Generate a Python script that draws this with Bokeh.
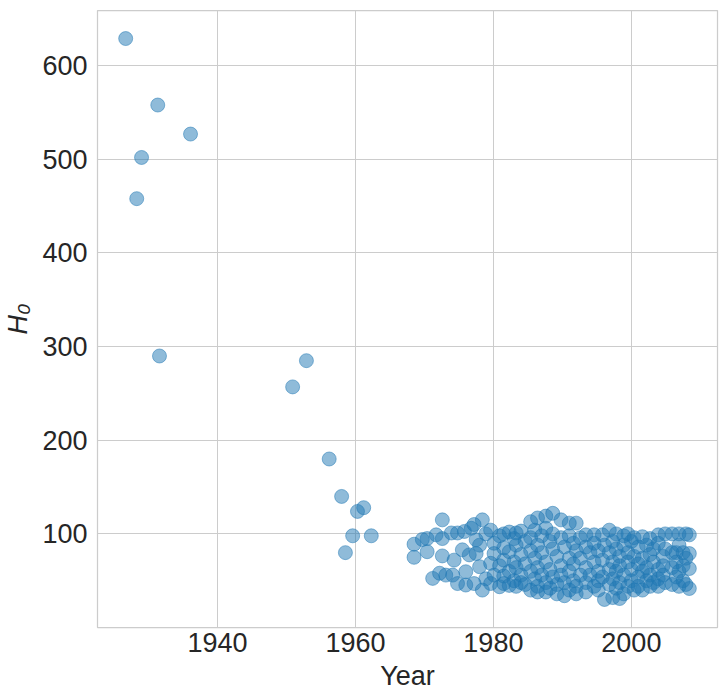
from bokeh.plotting import figure
from bokeh.models import Range1d, FixedTicker
from bokeh.embed import file_html
from bokeh.resources import INLINE

# Early measurements
early_year = [1926.7, 1928.3, 1929.0, 1931.35, 1931.6, 1936.1, 1950.9, 1952.9,
              1956.2, 1958.0, 1958.55, 1959.6, 1960.3, 1961.2, 1962.3]
early_h0 = [629, 458, 502, 558, 290, 527, 257, 285,
            180, 140, 80, 98, 124, 128, 98]

# Modern measurements (year, list of H0 values)
modern = [
    (1968.5, [89, 75]),
    (1969.7, [94]),
    (1970.4, [95, 81]),
    (1971.2, [52.5]),
    (1971.7, [99]),
    (1972.2, [58]),
    (1972.6, [95, 76.5, 115]),
    (1973.1, [56]),
    (1973.9, [101]),
    (1974.1, [56]),
    (1974.3, [72]),
    (1974.8, [101, 47]),
    (1975.5, [83]),
    (1975.8, [102.6]),
    (1976.0, [59.6, 45.4]),
    (1976.5, [77.6]),
    (1976.8, [106]),
    (1977.2, [110, 47]),
    (1977.5, [93.7, 79]),
    (1978.0, [88, 65]),
    (1978.4, [115, 40]),
    (1978.9, [100, 52]),
    (1979.6, [104, 68.6, 47]),
    (1980.1, [79, 56, 90]),
    (1980.9, [43.6, 98, 66]),
    (1981.5, [100, 85, 72, 55, 47]),
    (1982.3, [81, 102, 60, 45]),
    (1983.0, [95, 70, 50]),
    (1983.3, [101, 88, 64, 44]),
    (1984.0, [103, 78, 56, 48]),
    (1984.6, [92, 68, 46]),
    (1985.4, [113, 96, 82, 60, 40]),
    (1986.0, [104, 74, 52]),
    (1986.4, [117, 88, 64, 44, 38]),
    (1987.0, [98, 80, 56]),
    (1987.6, [119, 106, 70, 48, 38]),
    (1988.2, [92, 62, 42]),
    (1988.6, [122, 100, 84, 54]),
    (1989.2, [76, 46, 36]),
    (1989.8, [115, 96, 66, 56]),
    (1990.3, [86, 48, 34]),
    (1991.0, [111.5, 98, 74, 60, 40]),
    (1991.6, [90, 68, 50]),
    (1992.0, [111.5, 82, 44, 36]),
    (1992.6, [96, 74, 56]),
    (1993.4, [99, 86, 64, 48, 38]),
    (1994.0, [80, 56]),
    (1994.6, [99, 90, 70, 44]),
    (1995.2, [82, 60, 50, 40]),
    (1995.8, [99, 72, 54]),
    (1996.1, [30, 88]),
    (1996.8, [104, 80, 62, 46]),
    (1997.3, [32, 92, 70, 52]),
    (1997.8, [100, 84, 60, 42]),
    (1998.3, [31, 76, 66, 48]),
    (1998.9, [98, 88, 56, 36]),
    (1999.5, [100, 80, 70, 44]),
    (2000.0, [92, 62, 50]),
    (2000.4, [96, 76, 40]),
    (2001.0, [86, 68, 54, 44]),
    (2001.6, [97, 74, 60, 40]),
    (2002.2, [88, 64, 50]),
    (2002.7, [95, 78, 56, 44]),
    (2003.2, [84, 70, 48]),
    (2003.9, [99, 90, 62, 52, 44]),
    (2004.6, [76, 66, 56]),
    (2004.9, [100, 84, 48]),
    (2005.9, [100, 80, 64, 46]),
    (2006.5, [80, 70, 54]),
    (2006.9, [100, 88, 60, 44]),
    (2007.5, [80, 66, 50]),
    (2007.9, [100, 74, 46]),
    (2008.4, [99, 79, 63, 41.7]),
]

x_ticks = [1940, 1960, 1980, 2000]
y_ticks = [100, 200, 300, 400, 500, 600]

years = list(early_year)
h0 = list(early_h0)
for yr, vals in modern:
    for v in vals:
        years.append(yr)
        h0.append(v)

xmin, xmax = min(years), max(years)
ymin, ymax = min(h0), max(h0)
dx = (xmax - xmin) * 0.05
dy = (ymax - ymin) * 0.05

p = figure(frame_width=620, frame_height=617, output_backend="svg",
           toolbar_location=None,
           x_range=Range1d(xmin - dx, xmax + dx),
           y_range=Range1d(ymin - dy, ymax + dy),
           min_border_left=90, min_border_top=10, min_border_right=2,
           min_border_bottom=10)

p.scatter(years, h0, size=14, fill_color="#1f77b4", fill_alpha=0.5,
          line_color="#1f77b4", line_alpha=0.5, line_width=1)

p.xaxis.ticker = FixedTicker(ticks=x_ticks)
p.yaxis.ticker = FixedTicker(ticks=y_ticks)
p.xaxis.axis_label = "Year"
p.yaxis.axis_label = "H₀"
p.yaxis.axis_label_text_font_style = "italic"
p.xaxis.axis_label_text_font_style = "normal"

for ax in (p.xaxis, p.yaxis):
    ax.major_label_text_font = "Liberation Sans"
    ax.major_label_text_font_size = "27px"
    ax.major_label_text_color = "#262626"
    ax.axis_label_text_font = "Liberation Sans"
    ax.axis_label_text_font_size = "27px"
    ax.axis_label_text_color = "#262626"
    ax.major_tick_line_color = None
    ax.minor_tick_line_color = None
    ax.axis_line_color = None
    ax.axis_label_standoff = 6

p.xaxis.major_label_standoff = -1
p.yaxis.major_label_standoff = 4

p.grid.grid_line_color = "#cccccc"
p.grid.grid_line_width = 1
p.outline_line_color = "#cccccc"
p.outline_line_width = 1.25
p.background_fill_color = "white"
p.border_fill_color = "white"

open("out.html", "w").write(file_html(p, INLINE))
